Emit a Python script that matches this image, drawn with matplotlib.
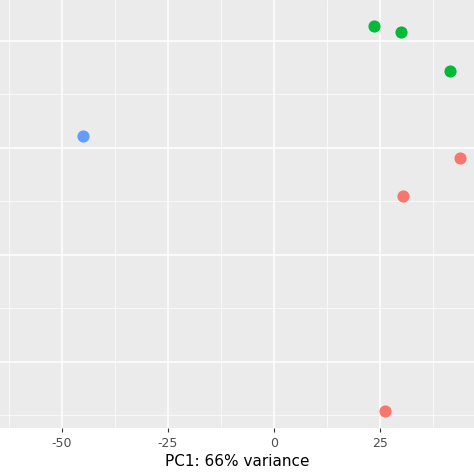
import matplotlib
matplotlib.use("Agg")
import matplotlib.pyplot as plt
plt.rcParams["axes.unicode_minus"] = False

pc1_green = [23.5, 30.0, 41.5]
pc2_green = [11.4, 10.8, 7.2]
pc1_blue = [-45.0]
pc2_blue = [1.1]
pc1_red = [44.0, 30.5, 26.2]
pc2_red = [-1.0, -4.5, -24.6]
xticks = [-50, -25, 0, 25]

fig = plt.figure(figsize=(4.74, 4.74), dpi=100)
ax = fig.add_axes([0, 0.097, 1, 0.903])
ax.set_facecolor("#EBEBEB")
for s in ax.spines.values():
    s.set_visible(False)
ax.set_xlim(-64.6, 47.2)
ax.set_ylim(-26.2, 13.8)
ax.set_xticks(xticks)
ax.set_xticks([-62.5, -37.5, -12.5, 12.5, 37.5], minor=True)
ax.set_yticks([10, 0, -10, -20])
ax.set_yticks([5, -5, -15, -25], minor=True)
ax.grid(True, which="major", color="white", lw=1.1)
ax.grid(True, which="minor", color="white", lw=0.5)
ax.set_axisbelow(True)
ax.tick_params(axis="y", which="both", left=False, labelleft=False)
ax.tick_params(axis="x", which="minor", bottom=False)
ax.tick_params(axis="x", which="major", colors="#333333", labelcolor="#4D4D4D", labelsize=9, length=3)
ax.scatter(pc1_green, pc2_green, s=60, color="#00BA38", zorder=3)
ax.scatter(pc1_blue, pc2_blue, s=60, color="#619CFF", zorder=3)
ax.scatter(pc1_red, pc2_red, s=60, color="#F8766D", zorder=3)
ax.set_xlabel("PC1: 66% variance", fontsize=11, labelpad=3)
fig.savefig("out.png", dpi=100)
